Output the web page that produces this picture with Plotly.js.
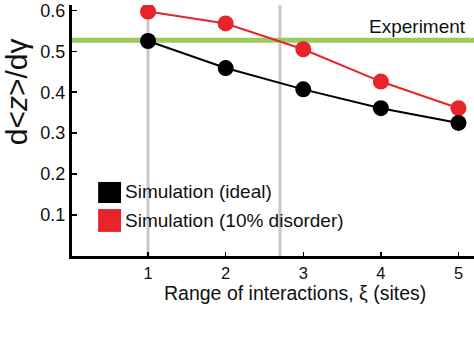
<!DOCTYPE html>
<html><head><meta charset="utf-8">
<script src="https://cdn.plot.ly/plotly-3.0.1.min.js"></script>
<style>body{margin:0;background:#fff}#c{width:474px;height:356px}</style>
</head><body><div id="c"></div>
<script>
const rangeXi = [1, 2, 3, 4, 5];
const idealVals = [0.525, 0.459, 0.407, 0.361, 0.325];
const disorderVals = [0.597, 0.568, 0.505, 0.426, 0.361];
const experimentVal = 0.527;
const guideXs = [1, 2.7];
const xTickVals = [1, 2, 3, 4, 5];
const yTickVals = [0.1, 0.2, 0.3, 0.4, 0.5, 0.6];
const yTickText = ['0.1', '0.2', '0.3', '0.4', '0.5', '0.6'];
const seriesNames = ['Simulation (ideal)', 'Simulation (10% disorder)'];
const seriesColors = ['#000000', '#e8242b'];

const font = 'Liberation Sans, Arial, sans-serif';
const traces = [
  {x: rangeXi, y: disorderVals, mode: 'lines+markers', name: seriesNames[1],
   line: {color: seriesColors[1], width: 2}, marker: {color: seriesColors[1], size: 16}, showlegend: false},
  {x: rangeXi, y: idealVals, mode: 'lines+markers', name: seriesNames[0],
   line: {color: seriesColors[0], width: 2}, marker: {color: seriesColors[0], size: 16}, showlegend: false}
];
const shapes = [];
guideXs.forEach(gx => shapes.push({type: 'line', xref: 'x', yref: 'paper', x0: gx, x1: gx, y0: 0, y1: 1,
  line: {color: '#c8c8c8', width: 3}, layer: 'below'}));
shapes.push({type: 'line', xref: 'paper', yref: 'y', x0: 0, x1: 1, y0: experimentVal, y1: experimentVal,
  line: {color: '#9ccb5c', width: 5}, layer: 'below'});
// legend swatches
const legBox = [[0.295, 0.211], [0.187, 0.096]];
const legTextY = [0.255, 0.142];
seriesNames.forEach((n, i) => {
  shapes.push({type: 'rect', xref: 'paper', yref: 'paper', x0: 0.065, x1: 0.122, y0: legBox[i][1], y1: legBox[i][0],
    fillcolor: seriesColors[i], line: {width: 0}});
});
const annotations = seriesNames.map((n, i) => ({xref: 'paper', yref: 'paper', x: 0.128, y: legTextY[i], text: n,
  showarrow: false, xanchor: 'left', yanchor: 'middle', font: {family: font, size: 19, color: '#111'}}));
annotations.push({xref: 'paper', yref: 'y', x: 0.985, y: experimentVal, text: 'Experiment', showarrow: false,
  xanchor: 'right', yanchor: 'bottom', yshift: 1, font: {family: font, size: 19, color: '#111'}});
annotations.push({xref: 'paper', yref: 'paper', x: -0.139, y: 0.653, text: 'd&lt;<i>z</i>&gt;/dγ', showarrow: false,
  textangle: -90, xanchor: 'center', yanchor: 'middle', font: {family: font, size: 30, color: '#111'}});
annotations.push({xref: 'paper', yref: 'paper', x: 0.555, y: -0.147, text: 'Range of interactions, ξ (sites)', showarrow: false,
  xanchor: 'center', yanchor: 'middle', borderpad: 0, font: {family: font, size: 19.5, color: '#111'}});

const layout = {
  width: 474, height: 356,
  margin: {l: 72, r: 0, t: 5, b: 100},
  paper_bgcolor: '#fff', plot_bgcolor: '#fff',
  font: {family: font, color: '#111'},
  showlegend: false,
  xaxis: {range: [0.02, 5.2], tickvals: xTickVals, ticks: 'inside', ticklen: 4, tickwidth: 1.5, tickcolor: '#000',
    showgrid: false, zeroline: false, showline: true, linecolor: '#000', linewidth: 3,
    tickfont: {size: 16.5, family: font}},
  yaxis: {range: [0, 0.613], tickvals: yTickVals, ticktext: yTickText, ticks: 'inside', ticklen: 5, tickwidth: 1.5,
    tickcolor: '#000', showgrid: false, zeroline: false, showline: true, linecolor: '#000', linewidth: 3,
    tickfont: {size: 18, family: font}},
  shapes: shapes, annotations: annotations
};
Plotly.newPlot('c', traces, layout, {displayModeBar: false, staticPlot: true});
</script></body></html>
